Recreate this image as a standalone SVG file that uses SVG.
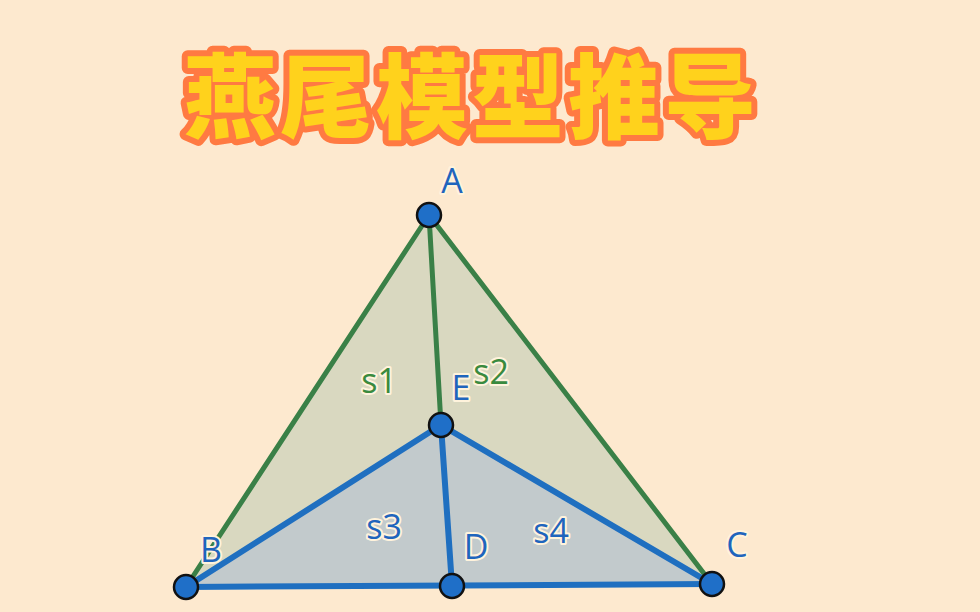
<svg xmlns="http://www.w3.org/2000/svg" width="980" height="612" viewBox="0 0 980 612">
<style>
.title{font-family:"Noto Sans CJK SC","Noto Sans CJK JP",sans-serif;font-weight:900;font-size:92px;letter-spacing:4px;fill:#ffd21c;stroke:#ff7a42;stroke-width:12;paint-order:stroke;stroke-linejoin:round;text-anchor:middle}
.lbl{font-family:"Open Sans","Noto Sans",sans-serif;font-size:34px;text-anchor:middle;paint-order:stroke;stroke:#fff3dc;stroke-width:4;stroke-linejoin:round}
.blue{fill:#1f65bd}
.green{fill:#3a8a3e}
.gl{stroke:#3a8047;stroke-width:5;fill:none;stroke-linecap:round}
.bl{stroke:#1f6fc0;stroke-width:6;fill:none;stroke-linecap:round}
.pt{fill:#1f6fc8;stroke:#111;stroke-width:2.5}
</style>
<rect width="980" height="612" fill="#fde9cf"/>
<text class="title" x="472" y="131">燕尾模型推导</text>
<polygon points="429,215 186,587 712,584" fill="#d9d8c0"/>
<polygon points="441,425 186,587 712,584" fill="#c2cacc"/>
<g id="connectors">
<line class="gl" x1="429" y1="215" x2="186" y2="587"/>
<line class="gl" x1="429" y1="215" x2="712" y2="584"/>
<line class="gl" x1="429" y1="215" x2="441" y2="425"/>
<line class="bl" x1="441" y1="425" x2="186" y2="587"/>
<line class="bl" x1="441" y1="425" x2="712" y2="584"/>
<line class="bl" x1="441" y1="425" x2="452" y2="586"/>
<line class="bl" x1="186" y1="587" x2="712" y2="584"/>
</g>
<g id="A"><circle class="pt" cx="429" cy="215" r="12"/><text class="lbl blue" x="452" y="193">A</text></g>
<g id="B"><circle class="pt" cx="186" cy="587" r="12"/><text class="lbl blue" x="211" y="562">B</text></g>
<g id="C"><circle class="pt" cx="712" cy="584" r="12"/><text class="lbl blue" x="737" y="557">C</text></g>
<g id="D"><circle class="pt" cx="452" cy="586" r="12"/><text class="lbl blue" x="476" y="559">D</text></g>
<g id="E"><circle class="pt" cx="441" cy="425" r="12"/><text class="lbl blue" x="461" y="400">E</text></g>
<g id="s1"><text class="lbl green" x="379" y="393">s1</text></g>
<g id="s2"><text class="lbl green" x="491" y="384">s2</text></g>
<g id="s3"><text class="lbl blue" x="384" y="539">s3</text></g>
<g id="s4"><text class="lbl blue" x="551" y="543">s4</text></g>
</svg>
